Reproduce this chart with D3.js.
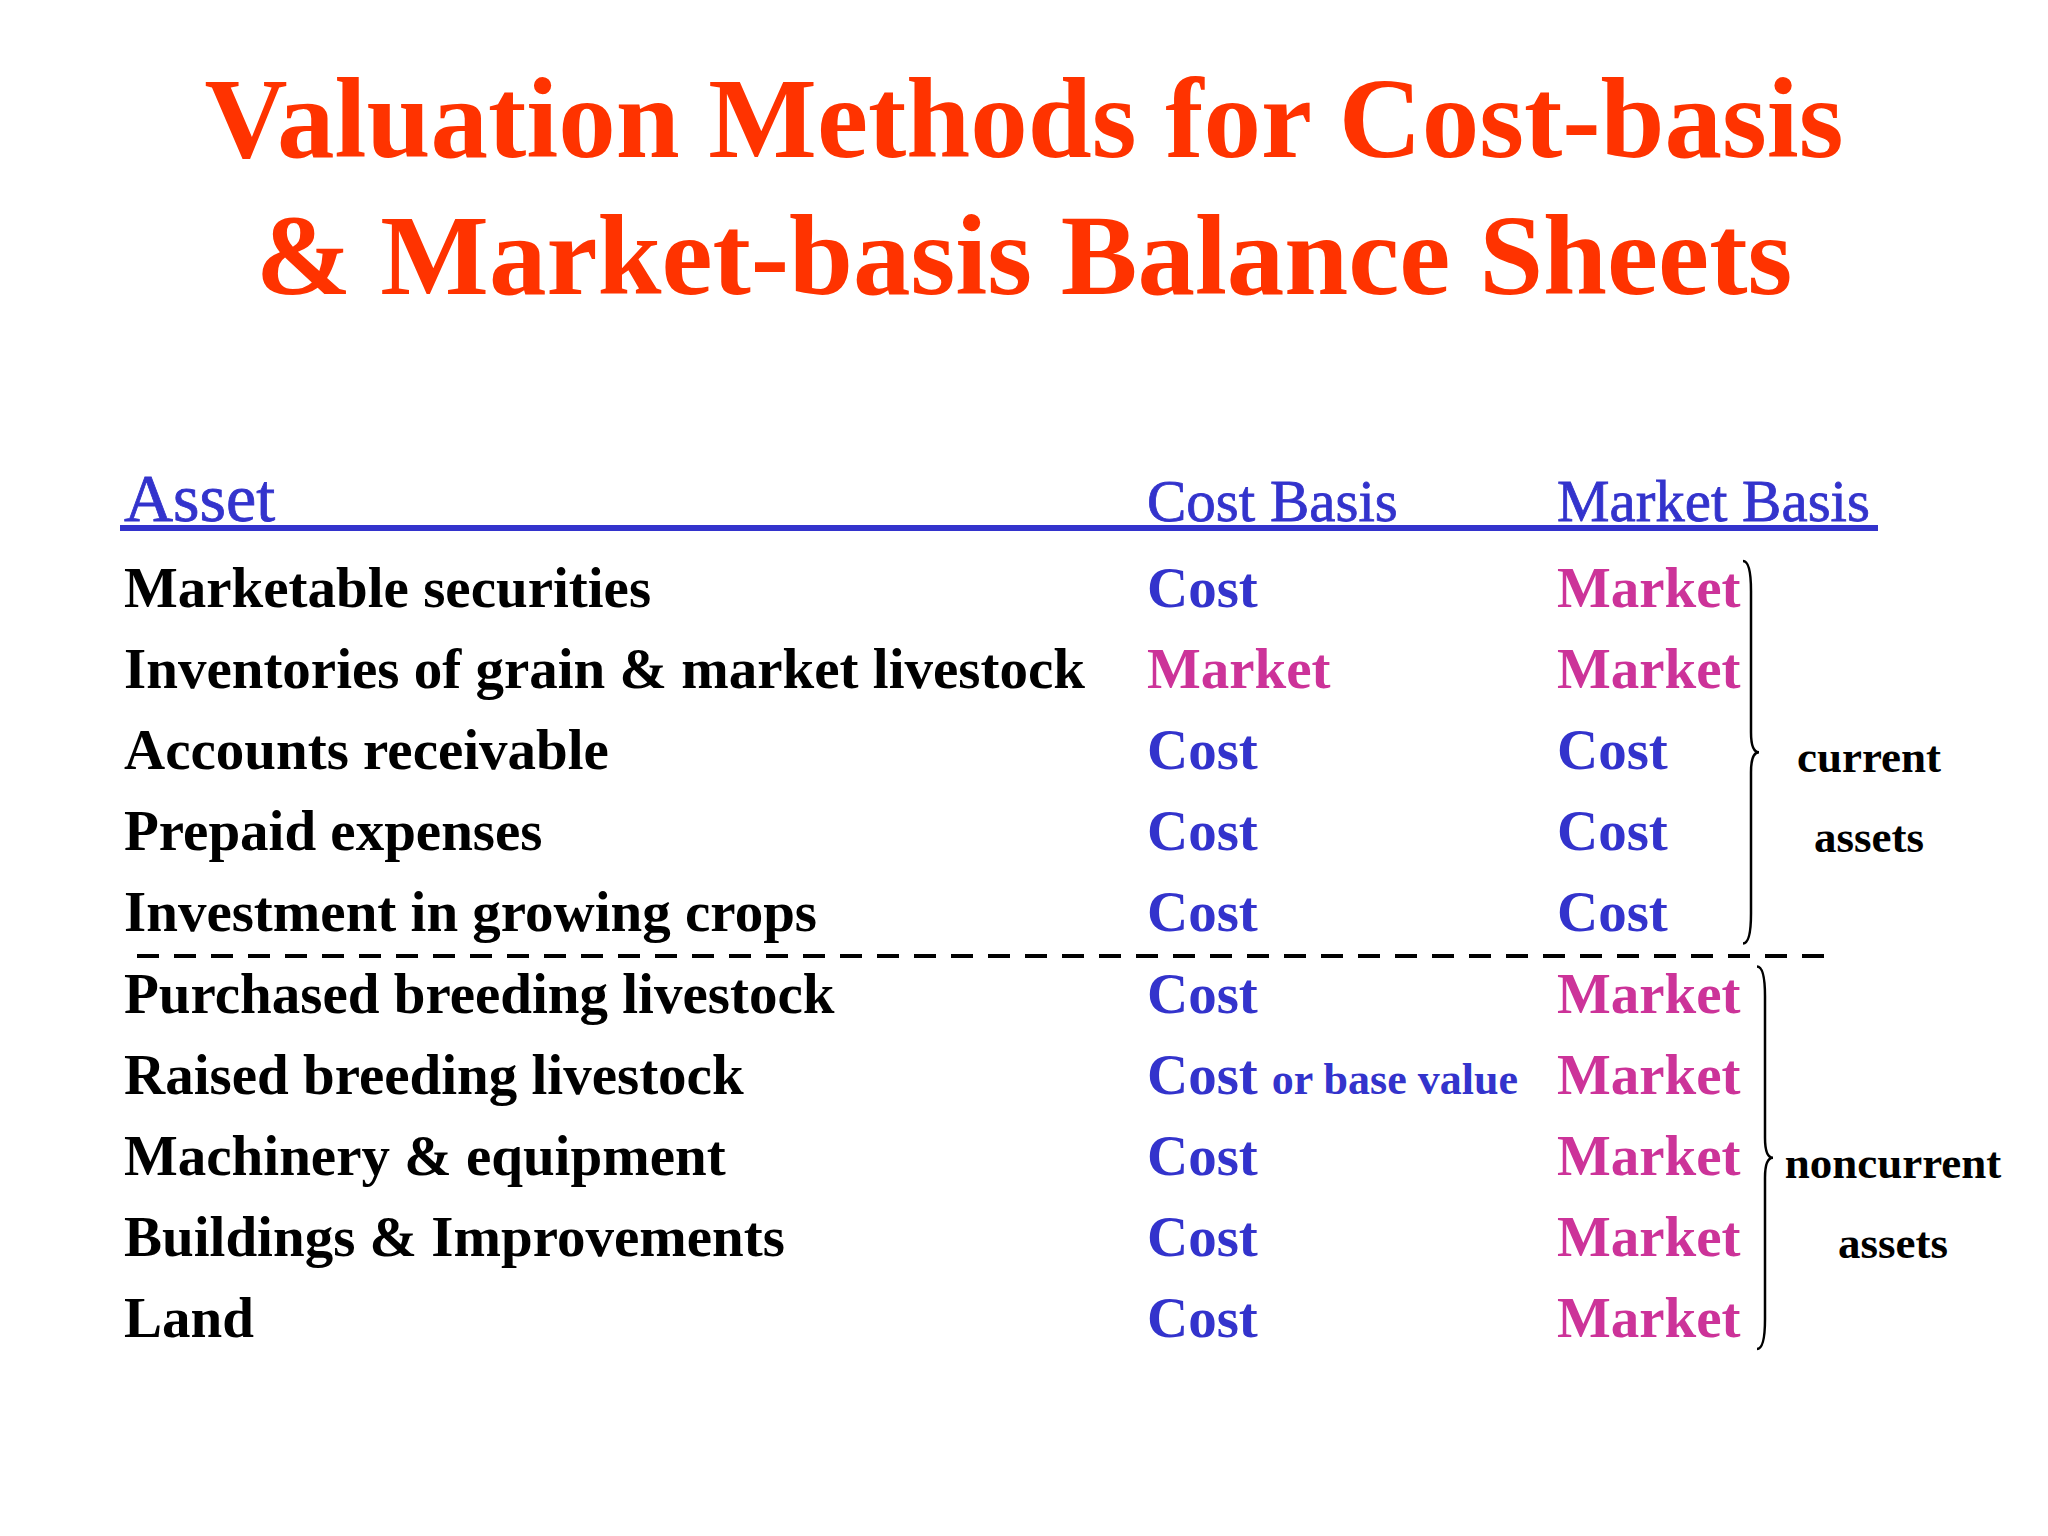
<!DOCTYPE html>
<html><head><meta charset="utf-8">
<script src="https://cdn.jsdelivr.net/npm/d3@7"></script>
<style>body{margin:0;background:#fff}</style></head>
<body><svg id="c" width="2048" height="1536"></svg>
<script>
const titleLines = ["Valuation Methods for Cost-basis", "& Market-basis Balance Sheets"];
const headers = ["Asset", "Cost Basis", "Market Basis"];
const assets = ["Marketable securities","Inventories of grain & market livestock","Accounts receivable","Prepaid expenses","Investment in growing crops","Purchased breeding livestock","Raised breeding livestock","Machinery & equipment","Buildings & Improvements","Land"];
const costBasis = ["Cost","Market","Cost","Cost","Cost","Cost","Cost","Cost","Cost","Cost"];
const marketBasis = ["Market","Market","Cost","Cost","Cost","Market","Market","Market","Market","Market"];
const groups = [{label:["current","assets"], from:0, to:4},{label:["noncurrent","assets"], from:5, to:9}];

const svg = d3.select("#c");
const BLUE="#3333cc", MAG="#cc3399", font="'Liberation Serif','Times New Roman',serif";
const col = d3.scaleOrdinal().domain(["Cost","Market"]).range([BLUE,MAG]);

svg.selectAll("text.t").data(titleLines).join("text")
  .attr("x",1024).attr("y",(d,i)=>157+i*137).attr("text-anchor","middle")
  .attr("font-family",font).attr("font-weight","bold").attr("font-size",115).attr("fill","#ff3300").text(d=>d);

const x = d3.scaleOrdinal().domain(headers).range([124,1147,1557]);
svg.selectAll("text.h").data(headers).join("text")
  .attr("x",d=>x(d)).attr("y",521).attr("font-family",font).attr("font-size",d=>d==="Asset"?68:59)
  .attr("stroke",BLUE).attr("stroke-width",0.8)
  .attr("fill",BLUE).text(d=>d);
svg.append("rect").attr("x",120).attr("y",525).attr("width",1758).attr("height",6).attr("fill",BLUE);

const y = d3.scalePoint().domain(d3.range(assets.length)).range([607,1337]);
const fs=57;
svg.selectAll("text.a").data(assets).join("text").attr("x",124).attr("y",(d,i)=>y(i))
  .attr("font-family",font).attr("font-weight","bold").attr("font-size",fs).attr("fill","#000").text(d=>d);
const ct = svg.selectAll("text.c").data(costBasis).join("text").attr("x",1147).attr("y",(d,i)=>y(i))
  .attr("font-family",font).attr("font-weight","bold").attr("font-size",fs).attr("fill",d=>col(d));
ct.append("tspan").text(d=>d);
ct.filter((d,i)=>i===6).append("tspan").attr("font-size",44).attr("dx",14).text("or base value");
svg.selectAll("text.m").data(marketBasis).join("text").attr("x",1557).attr("y",(d,i)=>y(i))
  .attr("font-family",font).attr("font-weight","bold").attr("font-size",fs).attr("fill",d=>col(d)).text(d=>d);

svg.append("line").attr("x1",137).attr("x2",1829).attr("y1",956).attr("y2",956)
  .attr("stroke","#000").attr("stroke-width",4).attr("stroke-dasharray","22,15");

function brace(x0, y0, y1, w){
  const m=(y0+y1)/2;
  return `M${x0},${y0} Q${x0+w},${y0} ${x0+w},${y0+30} L${x0+w},${m-20} Q${x0+w},${m} ${x0+w*2},${m} Q${x0+w},${m} ${x0+w},${m+20} L${x0+w},${y1-30} Q${x0+w},${y1} ${x0},${y1}`;
}
const bx=[1743,1757], lx=[1869,1893];
groups.forEach((g,k)=>{
  const y0=y(g.from)-46, y1=y(g.to)+12;
  svg.append("path").attr("d",brace(bx[k],y0,y1,8)).attr("fill","none").attr("stroke","#000").attr("stroke-width",2.5);
  const mid=(y0+y1)/2;
  svg.selectAll(null).data(g.label).join("text").attr("x",lx[k]).attr("y",(d,i)=>mid+20+i*80)
    .attr("text-anchor","middle").attr("font-family",font).attr("font-weight","bold").attr("font-size",45).text(d=>d);
});
</script></body></html>
